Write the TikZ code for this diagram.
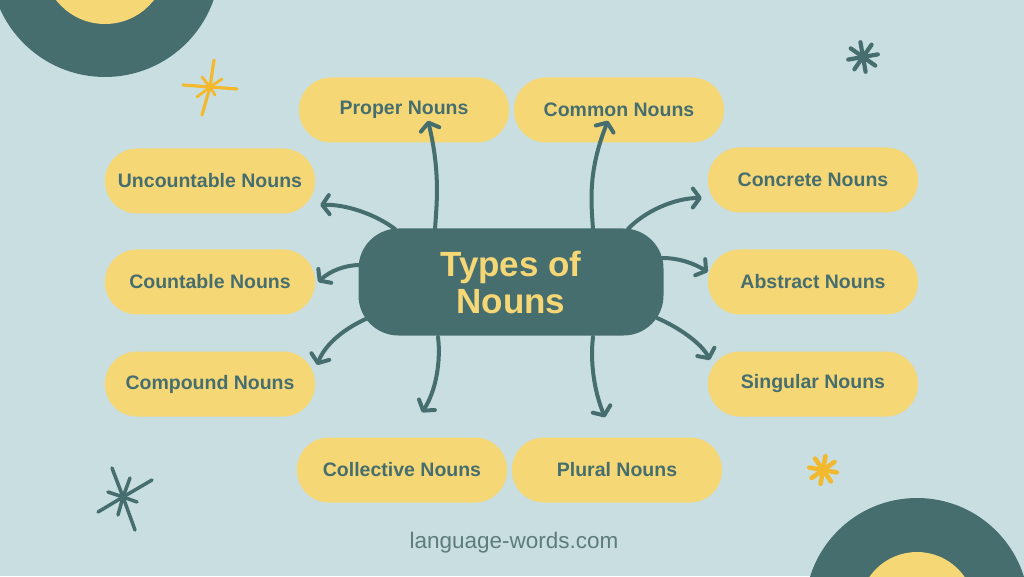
\documentclass[tikz,border=0pt]{standalone}
\usepackage{fontspec}
\setmainfont{Liberation Sans}
\usetikzlibrary{arrows.meta,calc}
\definecolor{bg}{RGB}{201,222,224}
\definecolor{teal}{RGB}{70,110,111}
\definecolor{pill}{RGB}{246,215,118}
\definecolor{staryel}{RGB}{242,185,46}
\definecolor{foot}{RGB}{94,124,125}
\begin{document}
\begin{tikzpicture}[x=1pt,y=1pt,
  item/.style={fill=pill,rounded corners=32pt,minimum width=210pt,minimum height=65pt,
    text=teal,font=\bfseries\fontsize{19.5}{22}\selectfont,inner sep=0pt},
  hub/.style={fill=teal,rounded corners=40pt,minimum width=305pt,minimum height=107pt,
    text=pill,font=\bfseries\fontsize{35}{37}\selectfont,align=center,inner sep=0pt},
  arr/.style={draw=teal,line width=4pt,line cap=round,
    -{Straight Barb[length=7pt,width=19pt,round]}},
  ray/.style={line width=#1,line cap=round},
  ray/.default=3pt]
\useasboundingbox (0,0) rectangle (1024,576);
\fill[bg] (0,0) rectangle (1024,576);
% corner circles
\begin{scope}
\clip (0,0) rectangle (1024,576);
\fill[teal] (105,614) circle (115);
\fill[pill] (105,614) circle (62);
\fill[teal] (917,-34) circle (112);
\fill[pill] (917,-34) circle (58);
\end{scope}
% stars
\begin{scope}[shift={(210,489)}]
\foreach \p in {(4,27),(-8,-28),(-27,2),(27,-2)} \draw[ray=3.2pt,staryel] (0,0) -- \p;
\foreach \p in {(-8,10),(12,8),(-13,-10),(5,-8)} \draw[ray=2.8pt,staryel] (0,0) -- \p;
\fill[staryel] (0,0) circle (3.5);
\end{scope}
\begin{scope}[shift={(863,519)}]
\foreach \a in {100,145,10,55} \draw[ray=4.2pt,teal] (\a:15) -- (\a+180:15);
\end{scope}
\begin{scope}[shift={(123,79)}]
\foreach \p in {(-11,29),(12,-33),(-25,-15),(29,17)} \draw[ray=3.5pt,teal] (0,0) -- \p;
\foreach \p in {(7,19),(-5,-18),(-15,5),(14,-5)} \draw[ray=3.5pt,teal] (0,0) -- \p;
\fill[teal] (0,0) circle (4);
\end{scope}
\begin{scope}[shift={(823,106)}]
\foreach \a in {80,125,170,35} \draw[ray=4.5pt,staryel] (\a:14) -- (\a+180:14);
\end{scope}
% nodes
\node[hub] (c) at (511,294) {Types of\\Nouns};
\node[item] (proper) at (404,466) {Proper Nouns};
\node[item] (common) at (619,466) {Common Nouns};
\node[item] (uncount) at (210,395) {Uncountable Nouns};
\node[item] (concrete) at (813,396) {Concrete Nouns};
\node[item] (count) at (210,294) {Countable Nouns};
\node[item] (abstract) at (813,294) {Abstract Nouns};
\node[item] (compound) at (210,192) {Compound Nouns};
\node[item] (singular) at (813,192) {Singular Nouns};
\node[item] (collective) at (402,106) {Collective Nouns};
\node[item] (plural) at (617,106) {Plural Nouns};
\node[text=foot,font=\fontsize{22.5}{25}\selectfont] (site) at (514,33) {language-words.com};
% arrow tips
\coordinate (t1) at ($(proper.south)+(24,22)$);
\coordinate (t2) at ($(common.south)+(-11,22)$);
\coordinate (t3) at ($(uncount.east)+(5,-24)$);
\coordinate (t4) at ($(concrete.west)+(-6,-18)$);
\coordinate (t5) at ($(count.east)+(3,0)$);
\coordinate (t6) at ($(abstract.west)+(0,10)$);
\coordinate (t7) at ($(compound.east)+(2,19)$);
\coordinate (t8) at ($(singular.west)+(2,24)$);
\coordinate (t9) at ($(collective.north)+(20,25)$);
\coordinate (t10) at ($(plural.north)+(-12,20)$);
% arrows
\draw[arr] ($(c.center)+(-76,53)$) .. controls ($(c.center)+(-74,81)$) and ($(c.center)+(-71,111)$) .. (t1);
\draw[arr] ($(c.center)+(82,53)$) .. controls ($(c.center)+(80,81)$) and ($(c.center)+(77,111)$) .. (t2);
\draw[arr] ($(c.center)+(-116,53)$) .. controls ($(c.center)+(-136,68)$) and ($(c.center)+(-166,78)$) .. (t3);
\draw[arr] ($(c.center)+(117,53)$) .. controls ($(c.center)+(134,71)$) and ($(c.center)+(164,84)$) .. (t4);
\draw[arr] ($(c.center)+(-151,17)$) .. controls ($(c.center)+(-166,17)$) and ($(c.center)+(-181,11)$) .. (t5);
\draw[arr] ($(c.center)+(151,24)$) .. controls ($(c.center)+(169,24)$) and ($(c.center)+(184,18)$) .. (t6);
\draw[arr] ($(c.center)+(-143,-36)$) .. controls ($(c.center)+(-166,-46)$) and ($(c.center)+(-186,-62)$) .. (t7);
\draw[arr] ($(c.center)+(146,-36)$) .. controls ($(c.center)+(169,-46)$) and ($(c.center)+(191,-62)$) .. (t8);
\draw[arr] ($(c.center)+(-73,-55)$) .. controls ($(c.center)+(-70,-79)$) and ($(c.center)+(-75,-109)$) .. (t9);
\draw[arr] ($(c.center)+(82,-55)$) .. controls ($(c.center)+(79,-79)$) and ($(c.center)+(83,-109)$) .. (t10);
\end{tikzpicture}
\end{document}
